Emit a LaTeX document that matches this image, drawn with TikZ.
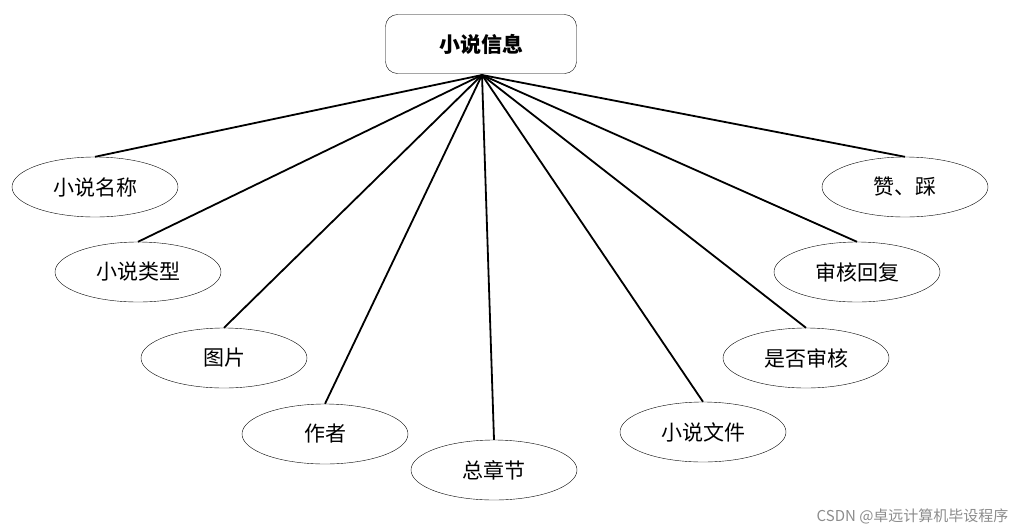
\documentclass[tikz,border=0pt]{standalone}
\usepackage{fontspec}
\setmainfont{Noto Sans CJK SC}
\usetikzlibrary{shapes.geometric}
\tikzset{
  entity/.style = {draw, rounded corners=12pt, minimum width=191pt,
                   minimum height=59pt, font=\fontsize{21}{24}\selectfont\bfseries},
  attr/.style = {draw, ellipse, minimum width=166pt, minimum height=60pt,
                 font=\fontsize{21}{24}\selectfont},
  link/.style = {line width=1.8pt},
}
\begin{document}
\begin{tikzpicture}[x=1pt, y=-1pt]
  \useasboundingbox (0,0) rectangle (1024,531);

  %% The entity and its attributes
  \node [entity] (info) at (481,44) {小说信息};
  \coordinate (hub) at (482,75);
  \node [attr] (name) at (95,187) {小说名称};
  \node [attr] (type) at (138,272) {小说类型};
  \node [attr] (pic) at (224,358) {图片};
  \node [attr] (author) at (325,434) {作者};
  \node [attr] (chap) at (494,470) {总章节};
  \node [attr] (file) at (703,432) {小说文件};
  \node [attr] (check) at (806,358) {是否审核};
  \node [attr] (reply) at (857,272) {审核回复};
  \node [attr] (vote) at (905,187) {赞、踩};

  %% Connect them together
  \foreach \n in {name,type,pic,author,chap,file,check,reply,vote}{%
    \draw [link] (hub) -- (\n.north);
  }

  \node [anchor=south east, text=black!45, font=\fontsize{15}{18}\selectfont]
    (mark) at (1012,528) {CSDN @卓远计算机毕设程序};
\end{tikzpicture}
\end{document}
